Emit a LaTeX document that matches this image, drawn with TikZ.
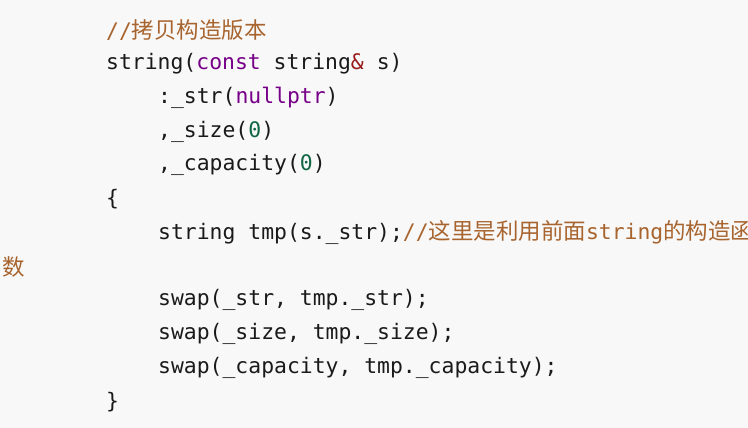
\documentclass[tikz,border=0pt]{standalone}
\usepackage{fontspec}
\setmonofont{DejaVu Sans Mono}
\newfontfamily\cjk[Scale=1.05]{Noto Sans CJK SC}
\definecolor{codebg}{HTML}{F8F8F8}
\definecolor{codetext}{HTML}{1A1A1A}
\definecolor{codecomment}{HTML}{A8642E}
\definecolor{codekw}{HTML}{770088}
\definecolor{codeamp}{HTML}{981A1A}
\definecolor{codenum}{HTML}{116644}
\newcommand{\kw}[1]{\textcolor{codekw}{#1}}
\newcommand{\num}[1]{\textcolor{codenum}{#1}}
\newcommand{\cm}[1]{\textcolor{codecomment}{#1}}
\newcommand{\zh}[1]{{\cjk #1}}

\begin{document}
\begin{tikzpicture}[x=1pt,y=-1pt,
    codeline/.style={anchor=west,inner sep=0pt,text=codetext,
      font=\ttfamily\fontsize{21.4}{26}\selectfont}]
  % page background
  \fill[codebg] (0,0) rectangle (748,428);
  \useasboundingbox (0,0) rectangle (748,428);

  % code lines
  \node[codeline] (l0) at (106,30.0) {\cm{//\zh{拷贝构造版本}}};
  \node[codeline] (l1) at (106,63.8) {string(\kw{const} string\textcolor{codeamp}{\&} s)};
  \node[codeline] (l2) at (158,97.6) {:\_str(\kw{nullptr})};
  \node[codeline] (l3) at (158,131.4) {,\_size(\num{0})};
  \node[codeline] (l4) at (158,165.2) {,\_capacity(\num{0})};
  \node[codeline] (l5) at (106,199.0) {\{};
  \node[codeline] (l6) at (158,232.8) {string tmp(s.\_str);\cm{//\zh{这里是利用前面}string\zh{的构造函}}};
  \node[codeline] (l7) at (2,266.6) {\cm{\zh{数}}};
  \node[codeline] (l8) at (158,300.4) {swap(\_str, tmp.\_str);};
  \node[codeline] (l9) at (158,334.2) {swap(\_size, tmp.\_size);};
  \node[codeline] (l10) at (158,368.0) {swap(\_capacity, tmp.\_capacity);};
  \node[codeline] (l11) at (106,401.8) {\}};
\end{tikzpicture}
\end{document}
